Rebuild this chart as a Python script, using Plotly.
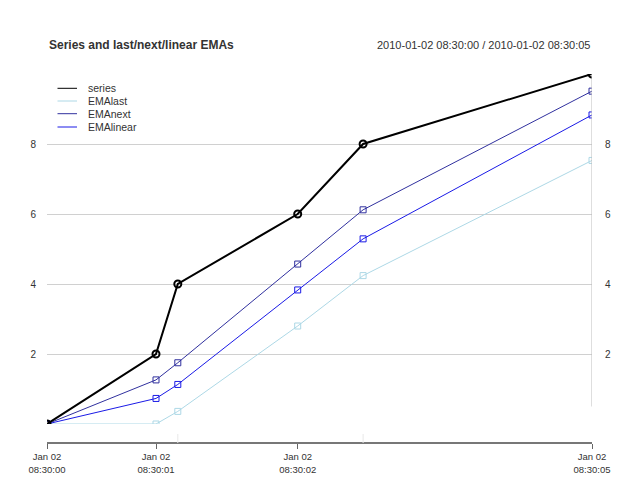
import plotly.graph_objects as go

# ---- data ----
times = ["2010-01-02 08:30:00", "2010-01-02 08:30:01", "2010-01-02 08:30:01.2",
         "2010-01-02 08:30:02.3", "2010-01-02 08:30:02.9", "2010-01-02 08:30:05"]
series = [0, 2, 4, 6, 8, 10]
ema_last = [0, 0, 0.36, 2.8, 4.24, 7.53]
ema_next = [0, 1.26, 1.75, 4.57, 6.12, 9.51]
ema_linear = [0, 0.73, 1.13, 3.83, 5.29, 8.83]

names = ["series", "EMAlast", "EMAnext", "EMAlinear"]
colors = ["#000000", "#add8e6", "#30309e", "#1a1ae6"]
values = [series, ema_last, ema_next, ema_linear]

label_idx = [0, 1, 3, 5]
tick_text = ["Jan 02<br>08:30:00", "Jan 02<br>08:30:01", "Jan 02<br>08:30:02", "Jan 02<br>08:30:05"]
y_ticks = [2, 4, 6, 8]

title = "Series and last/next/linear EMAs"
subtitle = "2010-01-02 08:30:00 / 2010-01-02 08:30:05"

FONT = "Liberation Sans, Arial, sans-serif"

fig = go.Figure()
for i in [1, 2, 3, 0]:
    if i == 0:
        fig.add_trace(go.Scatter(x=times, y=values[i], mode="lines+markers", name=names[i],
                                 line=dict(color=colors[i], width=2),
                                 marker=dict(symbol="circle-open", size=7, color=colors[i],
                                             line=dict(width=2, color=colors[i])),
                                 showlegend=False))
    else:
        fig.add_trace(go.Scatter(x=times, y=values[i], mode="lines+markers", name=names[i],
                                 line=dict(color=colors[i], width=1),
                                 marker=dict(symbol="square-open", size=6, color=colors[i],
                                             line=dict(width=1, color=colors[i])),
                                 showlegend=False))

# dummy trace for right axis
fig.add_trace(go.Scatter(x=times, y=series, yaxis="y2", mode="lines",
                         line=dict(width=0, color="rgba(0,0,0,0)"),
                         showlegend=False, hoverinfo="skip"))

W, H = 640, 480
ml, mr, mt, mb = 47, 48, 74, 37
plot_h = H - mt - mb
ydom0 = 19 / plot_h

def py(pix):
    return (H - mb - pix) / plot_h

def px(pix):
    return (pix - ml) / (W - ml - mr)

shapes = []
shapes.append(dict(type="line", xref="x", yref="y", x0=times[-1], x1=times[-1],
                   y0=0.5, y1=series[-1], line=dict(color="#bdbdbd", width=1)))
for i, t in enumerate(times):
    if i not in label_idx:
        shapes.append(dict(type="line", xref="x", yref="paper", x0=t, x1=t,
                           y0=0, y1=9 / plot_h, line=dict(color="#e8e8e8", width=1)))

annotations = [
    dict(text="<b>" + title + "</b>", xref="paper", yref="paper", x=0, y=py(45),
         xanchor="left", yanchor="middle", showarrow=False,
         font=dict(size=12, color="#333333", family=FONT)),
    dict(text=subtitle, xref="paper", yref="paper", x=1, y=py(45),
         xanchor="right", yanchor="middle", showarrow=False,
         font=dict(size=11, color="#333333", family=FONT)),
]

leg_rows = [88.3, 101, 113.7, 127]
for name, col, ry in zip(names, colors, leg_rows):
    shapes.append(dict(type="line", xref="paper", yref="paper", x0=px(57.5), x1=px(77),
                       y0=py(ry), y1=py(ry), line=dict(color=col, width=1)))
    annotations.append(dict(text=name, xref="paper", yref="paper", x=px(86), y=py(ry),
                            xanchor="left", yanchor="middle", showarrow=False,
                            font=dict(size=10.5, color="#333333", family=FONT)))

fig.update_layout(
    width=W, height=H,
    margin=dict(l=ml, r=mr, t=mt, b=mb, pad=0, autoexpand=False),
    paper_bgcolor="white", plot_bgcolor="white",
    font=dict(family=FONT, color="#333333"),
    showlegend=False,
    xaxis=dict(type="date", range=[times[0], times[-1]], anchor="free", position=0,
               automargin=False,
               tickvals=[times[i] for i in label_idx], ticktext=tick_text,
               ticks="outside", ticklen=5, tickcolor="#666666", tickwidth=1,
               showline=True, linecolor="#777777", linewidth=1.5,
               showgrid=False, zeroline=False,
               tickfont=dict(size=9.5, color="#333333", family=FONT),
               ticklabelstandoff=0),
    yaxis=dict(domain=[ydom0, 1], range=[0, 10], tickvals=y_ticks, automargin=False,
               showgrid=True, gridcolor="#d0d0d0", gridwidth=1,
               zeroline=False, showline=False, ticks="",
               tickfont=dict(size=10, color="#333333", family=FONT),
               ticklabelstandoff=10),
    yaxis2=dict(overlaying="y", side="right", range=[0, 10], tickvals=y_ticks,
                automargin=False,
                showgrid=False, zeroline=False, showline=False, ticks="",
                tickfont=dict(size=10, color="#333333", family=FONT),
                ticklabelstandoff=12),
    shapes=shapes,
    annotations=annotations,
)

fig.write_html("out.html", config={"displayModeBar": False},
               post_script="document.body.style.margin='0';document.body.style.overflow='hidden';")
